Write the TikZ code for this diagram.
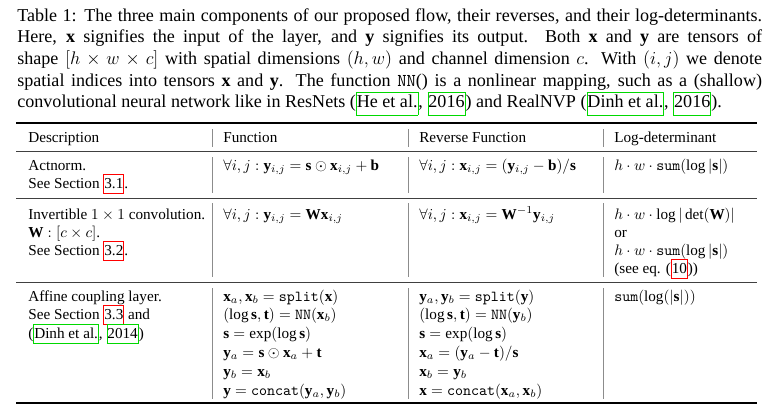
\documentclass[tikz,border=0pt]{standalone}
\usepackage{fontspec}
\setmainfont{Liberation Serif}
\usepackage{amssymb}
\newcommand{\gbx}[1]{{\setlength\fboxsep{0pt}\setlength\fboxrule{0.6pt}\textcolor{green!85!black}{\fbox{\textcolor{black}{\strut #1}}}}}
\newcommand{\rbx}[1]{{\setlength\fboxsep{0pt}\setlength\fboxrule{0.6pt}\textcolor{red}{\fbox{\textcolor{black}{\strut #1}}}}}
\newcommand{\bx}{\mathbf{x}}
\newcommand{\by}{\mathbf{y}}
\newcommand{\bs}{\mathbf{s}}
\newcommand{\bt}{\mathbf{t}}
\begin{document}
\begin{tikzpicture}[x=0.6579pt,y=-0.6579pt,
  cell/.style={anchor=base west,inner sep=0pt,font=\fontsize{10}{12}\selectfont},
  thickrule/.style={line width=1pt},
  midrule/.style={line width=0.6pt,black!75},
  sep/.style={line width=0.6pt,black!45}]
\useasboundingbox (0,0) rectangle (778,415);
\node[anchor=north west,inner sep=0pt,text width=490pt,align=justify,font=\fontsize{11.9}{14.3}\selectfont] (cap) at (17,8) {%
Table 1: The three main components of our proposed flow, their reverses, and their log-determinants.\linebreak
Here, $\bx$ signifies the input of the layer, and $\by$ signifies its output. Both $\bx$ and $\by$ are tensors of\linebreak
shape $[h\times w\times c]$ with spatial dimensions $(h,w)$ and channel dimension $c$. With $(i,j)$ we denote\linebreak
spatial indices into tensors $\bx$ and $\by$. The function \texttt{NN}() is a nonlinear mapping, such as a (shallow)\linebreak
convolutional neural network like in ResNets (\gbx{He et al.}, \gbx{2016}) and RealNVP (\gbx{Dinh et al.}, \gbx{2016}).};
% rules
\draw[thickrule] (16,123) -- (757,123);
\draw[midrule] (16,151) -- (757,151);
\draw[midrule] (16,198) -- (757,198);
\draw[midrule] (16,282) -- (757,282);
\draw[thickrule] (16,403) -- (757,403);
\foreach \cx in {212,408,603}{
  \draw[sep] (\cx,129) -- (\cx,147);
  \draw[sep] (\cx,157) -- (\cx,193);
  \draw[sep] (\cx,203) -- (\cx,277);
  \draw[sep] (\cx,288) -- (\cx,399);
}
% header
\node[cell] (h1) at (28,142) {Description};
\node[cell] (h2) at (223,142) {Function};
\node[cell] (h3) at (419,142) {Reverse Function};
\node[cell] (h4) at (614,142) {Log-determinant};
% row 1
\node[cell] (a1) at (28,170) {Actnorm.};
\node[cell] (a2) at (28,188) {See Section \rbx{3.1}.};
\node[cell] (a3) at (223,170) {$\forall i,j:\by_{i,j}=\bs\odot\bx_{i,j}+\mathbf{b}$};
\node[cell] (a4) at (419,170) {$\forall i,j:\bx_{i,j}=(\by_{i,j}-\mathbf{b})/\bs$};
\node[cell] (a5) at (614,170) {$h\cdot w\cdot\texttt{sum}(\log|\bs|)$};
% row 2
\node[cell] (b1) at (28,219) {Invertible $1\times1$ convolution.};
\node[cell] (b2) at (28,237) {$\mathbf{W}:[c\times c]$.};
\node[cell] (b3) at (28,255) {See Section \rbx{3.2}.};
\node[cell] (b4) at (223,219) {$\forall i,j:\by_{i,j}=\mathbf{W}\bx_{i,j}$};
\node[cell] (b5) at (419,219) {$\forall i,j:\bx_{i,j}=\mathbf{W}^{-1}\by_{i,j}$};
\node[cell] (b6) at (614,219) {$h\cdot w\cdot\log|\det(\mathbf{W})|$};
\node[cell] (b7) at (614,237) {or};
\node[cell] (b8) at (614,255) {$h\cdot w\cdot\texttt{sum}(\log|\bs|)$};
\node[cell] (b9) at (614,273) {(see eq. (\rbx{10}))};
% row 3
\node[cell] (c1) at (28,301) {Affine coupling layer.};
\node[cell] (c2) at (28,319) {See Section \rbx{3.3} and};
\node[cell] (c3) at (28,338) {(\gbx{Dinh et al.}, \gbx{2014})};
\node[cell] (f1) at (223,301) {$\bx_a,\bx_b=\texttt{split}(\bx)$};
\node[cell] (f2) at (223,319) {$(\log\bs,\bt)=\texttt{NN}(\bx_b)$};
\node[cell] (f3) at (223,338) {$\bs=\exp(\log\bs)$};
\node[cell] (f4) at (223,357) {$\by_a=\bs\odot\bx_a+\bt$};
\node[cell] (f5) at (223,376) {$\by_b=\bx_b$};
\node[cell] (f6) at (223,395) {$\by=\texttt{concat}(\by_a,\by_b)$};
\node[cell] (r1) at (419,301) {$\by_a,\by_b=\texttt{split}(\by)$};
\node[cell] (r2) at (419,319) {$(\log\bs,\bt)=\texttt{NN}(\by_b)$};
\node[cell] (r3) at (419,338) {$\bs=\exp(\log\bs)$};
\node[cell] (r4) at (419,357) {$\bx_a=(\by_a-\bt)/\bs$};
\node[cell] (r5) at (419,376) {$\bx_b=\by_b$};
\node[cell] (r6) at (419,395) {$\bx=\texttt{concat}(\bx_a,\bx_b)$};
\node[cell] (l1) at (614,301) {$\texttt{sum}(\log(|\bs|))$};
\end{tikzpicture}
\end{document}
